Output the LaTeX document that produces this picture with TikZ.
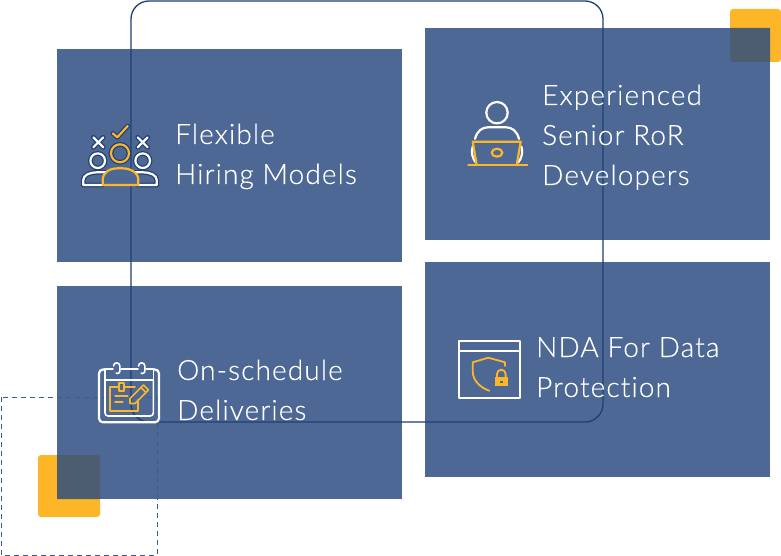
\documentclass[tikz,border=0pt]{standalone}
\usepackage{fontspec}
\setmainfont{Lato Light}[LetterSpace=4,FakeBold=0.35,Ligatures=NoCommon]
\definecolor{boxblue}{HTML}{4D6894}
\definecolor{overlap}{HTML}{4D5D70}
\definecolor{gold}{HTML}{FDB627}
\definecolor{navy}{HTML}{1F3F73}
\definecolor{dashblue}{HTML}{3A5C92}
\tikzset{
  x=1pt,y=-1pt,
  card/.style={fill=boxblue,draw=none},
  sq/.style={fill=gold,draw=none,rounded corners=3},
  ov/.style={fill=overlap,draw=none},
  wl/.style={draw=white,line width=2.2,line join=round,line cap=round},
  gl/.style={draw=gold,line width=2.2,line join=round,line cap=round},
  halo/.style={draw=navy,line width=4.6,line join=round,line cap=round},
  label/.style={anchor=base west,inner sep=0,text=white,font=\fontsize{28}{28}\selectfont}
}
\begin{document}
\begin{tikzpicture}
\useasboundingbox (0,0) rectangle (781,556);
\fill[white] (0,0) rectangle (781,556);
% accent squares
\path[sq] (730,9) rectangle (781,62);
\path[sq] (38,455) rectangle (100,517);
% cards
\path[card] (57,49) rectangle (402,262);
\path[card] (425,28) rectangle (770,240);
\path[card] (57,286) rectangle (402,499);
\path[card] (425,262) rectangle (770,477);
% overlaps
\path[ov] (730,28) -- (770,28) -- (770,62) -- (733,62) arc[start angle=90,end angle=180,radius=3] -- cycle;
\path[ov] (57,455) -- (97,455) arc[start angle=-90,end angle=0,radius=3] -- (100,499) -- (57,499) -- cycle;
% outlines
\draw[navy,line width=1.3,rounded corners=18] (131,1) rectangle (603,422);
\draw[dashblue,line width=0.95,dash pattern=on 5pt off 4pt] (1,397) rectangle (157,555);
% icon 1
\draw[halo] (83.3,185) -- (83.3,180) .. controls (83.3,175) and (90,172.3) .. (97,172.3) -- (108,172.3) -- (103,185) -- cycle;
\draw[wl] (83.3,185) -- (83.3,180) .. controls (83.3,175) and (90,172.3) .. (97,172.3) -- (108,172.3) -- (103,185) -- cycle;
\draw[halo] (156.7,185) -- (156.7,180) .. controls (156.7,175) and (150,172.3) .. (143,172.3) -- (132,172.3) -- (137,185) -- cycle;
\draw[wl] (156.7,185) -- (156.7,180) .. controls (156.7,175) and (150,172.3) .. (143,172.3) -- (132,172.3) -- (137,185) -- cycle;
\draw[halo] (97.7,160.7) circle[radius=7.3];
\draw[halo] (142.7,160.7) circle[radius=7.3];
\draw[wl] (97.7,160.7) circle[radius=7.3];
\draw[wl] (142.7,160.7) circle[radius=7.3];
\foreach \c in {98.3,142.7}{
  \draw[halo] (\c-5,137.3) -- (\c+5,147.3) (\c-5,147.3) -- (\c+5,137.3);
  \draw[wl] (\c-5,137.3) -- (\c+5,147.3) (\c-5,147.3) -- (\c+5,137.3);
}
\draw[halo] (112.7,133.3) -- (117.3,137.3) -- (127.7,126);
\draw[gl] (112.7,133.3) -- (117.3,137.3) -- (127.7,126);
\draw[halo] (120,153.3) circle[radius=9];
\draw[gl] (120,153.3) circle[radius=9];
\fill[boxblue] (102.7,185) -- (102.7,180) .. controls (102.7,172) and (110,168.3) .. (118,168.3) -- (122,168.3) .. controls (130,168.3) and (138.3,172) .. (138.3,180) -- (138.3,185) -- cycle;
\draw[gl] (102.7,185) -- (102.7,180) .. controls (102.7,172) and (110,168.3) .. (118,168.3) -- (122,168.3) .. controls (130,168.3) and (138.3,172) .. (138.3,180) -- (138.3,185) -- cycle;
% icon 2
\draw[wl] (497,112.7) circle[radius=10.7];
\draw[wl] (475,139) .. controls (477,131) and (482,127.3) .. (488,127.3) -- (506,127.3) .. controls (512,127.3) and (517,131) .. (519,139);
\draw[wl] (472.7,146.7) .. controls (471,152) and (472,158) .. (476,162.7);
\draw[wl] (521.5,146.7) .. controls (523,152) and (522,158) .. (518,162.7);
\draw[gl] (472.7,141.7) -- (520.7,141.7) -- (516.7,165) (472.7,141.7) -- (476.7,165);
\draw[gl] (468.3,165.3) -- (527.3,165.3);
\draw[gl] (497,152.7) ellipse[x radius=5.3,y radius=4];
% icon 3
\draw[wl,rounded corners=4] (104,369.5) -- (99,369.5) -- (99,422.3) -- (159,422.3) -- (159,369.5) -- (154,369.5);
\draw[wl,rounded corners=3,line width=1.6] (105,380) -- (105,416) -- (153.3,416) -- (153.3,380);
\draw[wl,line width=1.6] (105,380) -- (153.3,380);
\draw[wl,line width=1.6] (105,380) -- (105,369) -- (113,369);
\draw[wl,line width=1.6] (121,369) -- (138,369);
\draw[wl,line width=1.6] (146,369) -- (153.3,369) -- (153.3,380);
\draw[wl,line width=1.6] (113.5,366) arc[start angle=180,end angle=360,radius=3.2] -- (119.9,371) arc[start angle=0,end angle=120,radius=2.5];
\draw[wl,line width=1.6] (138.5,366) arc[start angle=180,end angle=360,radius=3.2] -- (144.9,371) arc[start angle=0,end angle=120,radius=2.5];
\draw[gl,line width=1.7] (118.5,387.3) -- (110,387.3) -- (110,410.7) -- (138.3,410.7) -- (138.3,400);
\draw[gl,line width=1.7] (124,387.3) -- (135,387.3);
\draw[gl,line width=1.7] (119.3,383.3) rectangle (124.3,390.7);
\draw[gl,line width=1.7] (115,395.7) -- (127.7,395.7) (115,402.3) -- (122.7,402.3);
\draw[gl,line width=1.7] (130,403.5) -- (130,398.5) -- (143.5,385) -- (148.5,390) -- (135,403.5) -- cycle;
\draw[gl,line width=1.7] (141,387.5) -- (146,392.5);
% icon 4
\draw[wl,line width=1.9] (459,340.7) rectangle (520,398.3);
\draw[wl,line width=1.9] (459,350.7) -- (520,350.7);
\draw[gl,line width=1.8] (505,366) -- (505,362.3) -- (488.3,357.7) -- (472.7,362.3) -- (472.7,371.7) .. controls (473,381) and (481,388) .. (489.3,390.7);
\draw[gl,line width=1.8] (497,377) -- (497,374) arc[start angle=180,end angle=360,radius=4.3] -- (505.6,377);
\fill[gold] (495,377) rectangle (507.7,385.7);
\fill[boxblue] (499.5,381) rectangle (503.2,382.5);
% labels
\node[label] (flex1) at (175,144) {Flexible};
\node[label] (flex2) at (175,184) {Hiring Models};
\node[label] (exp1) at (542,105) {Experienced};
\node[label] (exp2) at (542,145) {Senior RoR};
\node[label] (exp3) at (542,185) {Developers};
\node[label] (sched1) at (177,380) {On-schedule};
\node[label] (sched2) at (177,420) {Deliveries};
\node[label] (nda1) at (536,357) {NDA For Data};
\node[label] (nda2) at (536,397) {Protection};
\end{tikzpicture}
\end{document}
